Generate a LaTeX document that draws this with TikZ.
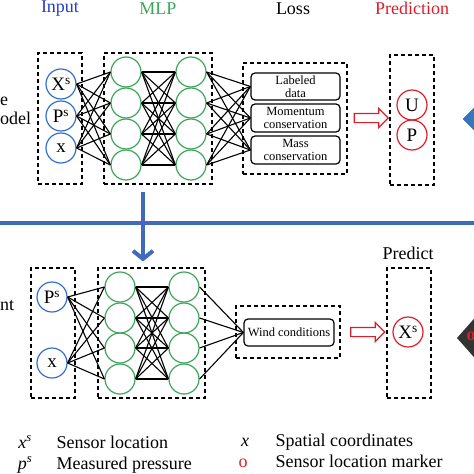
\documentclass[tikz,border=0pt]{standalone}
\usepackage{fontspec}
\setmainfont{Liberation Serif}
\usetikzlibrary{shapes.arrows}
\usetikzlibrary{arrows.meta}

\definecolor{inblue}{RGB}{40,60,190}
\definecolor{nodeblue}{RGB}{50,110,210}
\definecolor{mlpgreen}{RGB}{60,165,90}
\definecolor{predred}{RGB}{220,30,40}
\definecolor{barblue}{RGB}{65,105,190}
\newcommand{\hdfont}{\fontsize{18}{20}\selectfont}
\newcommand{\nfont}{\fontsize{19}{20}\selectfont}
\newcommand{\boxfont}{\fontsize{12.5}{13.5}\selectfont}

\begin{document}
\begin{tikzpicture}[x=1pt,y=-1pt]
	 \tikzstyle{neuron}=[circle,draw,line width=1.2pt,minimum size=30pt,inner sep=0pt,font=\nfont]
	 \tikzstyle{input neuron}=[neuron,draw=nodeblue]
	 \tikzstyle{hidden neuron}=[neuron,draw=mlpgreen]
	 \tikzstyle{output neuron}=[neuron,draw=predred]
	 \tikzstyle{dashed box}=[draw,dash pattern=on 4pt off 3pt,line width=1.2pt,inner sep=0pt]
	 \tikzstyle{loss box}=[draw,rounded corners=4pt,line width=1.2pt,align=center,font=\boxfont,inner sep=0pt]
	 \tikzstyle{edge}=[-,black,line width=1.1pt]
	 \tikzstyle{hollow arrow}=[single arrow,draw=predred,fill=white,line width=1.2pt,minimum height=34pt,minimum width=18pt,inner xsep=0pt,inner ysep=4pt,single arrow head extend=5pt]
	 \tikzstyle{section bar}=[barblue,line width=4pt]

	\useasboundingbox (0,0) rectangle (474,474);
	\clip (0,0) rectangle (474,474);

	% headings
	\node[text=inblue,font=\hdfont] (tin) at (60,9) {Input};
	\node[text=mlpgreen,font=\hdfont] (tmlp) at (158,9) {MLP};
	\node[font=\hdfont] (tloss) at (293,9) {Loss};
	\node[text=predred,font=\hdfont] (tpred) at (412,8) {Prediction};
	\node[font=\hdfont,anchor=base west,inner sep=0pt] (tleft1) at (0,105) {e};
	\node[font=\hdfont,anchor=base west,inner sep=0pt] (tleft2) at (0,124) {odel};

	% upper network
	\node[dashed box,minimum width=44pt,minimum height=131pt] (inbox) at (60,118.5) {};
	\node[dashed box,minimum width=108pt,minimum height=131pt] (mlpbox) at (158,118.5) {};
	\node[dashed box,minimum width=104pt,minimum height=111pt] (lossbox) at (295,118.5) {};
	\node[dashed box,minimum width=44pt,minimum height=130pt] (predbox) at (412,120) {};

	\node[input neuron] (in1) at (61,84) {X\textsuperscript{s}};
	\node[input neuron] (in2) at (61,116) {P\textsuperscript{s}};
	\node[input neuron] (in3) at (61,148) {x};
	\foreach \k/\y in {1/72,2/103,3/134,4/165} {
		\node[hidden neuron] (ha\k) at (126,\y) {};
		\node[hidden neuron] (hb\k) at (191,\y) {};
	}
	\node[loss box,minimum width=89pt,minimum height=27pt] (ls1) at (295.5,86.5) {Labeled\\data};
	\node[loss box,minimum width=89pt,minimum height=28pt] (ls2) at (295.5,118) {Momentum\\conservation};
	\node[loss box,minimum width=89pt,minimum height=28pt] (ls3) at (295.5,150) {Mass\\conservation};
	\node[output neuron] (outu) at (412,105) {U};
	\node[output neuron] (outp) at (412,135) {P};
	\node[hollow arrow] (arr1) at (369,118) {};

	\foreach \i in {1,2,3} \foreach \j in {1,2,3,4} \draw[edge] (in\i.east) -- (ha\j.west);
	\foreach \i in {1,2,3,4} \foreach \j in {1,2,3,4} \draw[edge] (ha\i.east) -- (hb\j.west);
	\foreach \i in {1,2,3,4} \foreach \j in {1,2,3} \draw[edge] (hb\i.east) -- (ls\j.west);

	% divider and arrow
	\coordinate (barl) at (0,223);
	\coordinate (barr) at (474,223);
	\coordinate (arrtop) at (143,192);
	\draw[section bar] (barl) -- (barr);

	% lower network
	\node[font=\hdfont,anchor=base west,inner sep=0pt] (tleft3) at (0,310) {nt};
	\node[font=\hdfont] (tpredict) at (408,253) {Predict};
	\node[dashed box,minimum width=44pt,minimum height=130pt] (binbox) at (53,333) {};
	\node[dashed box,minimum width=107pt,minimum height=130pt] (bmlpbox) at (151.5,333) {};
	\node[dashed box,minimum width=104pt,minimum height=52pt] (windbox) at (288,332) {};
	\node[dashed box,minimum width=44pt,minimum height=130pt] (bpredbox) at (409,333) {};

	\node[input neuron] (bin1) at (52,297) {P\textsuperscript{s}};
	\node[input neuron] (bin2) at (52,363) {x};
	\foreach \k/\y in {1/287,2/318,3/348,4/379} {
		\node[hidden neuron] (bha\k) at (120,\y) {};
		\node[hidden neuron] (bhb\k) at (184,\y) {};
	}
	\node[loss box,minimum width=90pt,minimum height=27pt] (wind) at (289,332.5) {Wind conditions};
	\node[output neuron] (bout) at (408,332) {X\textsuperscript{s}};
	\node[hollow arrow] (arr2) at (365.5,332) {};

	\foreach \i in {1,2} \foreach \j in {1,2,3,4} \draw[edge] (bin\i.east) -- (bha\j.west);
	\foreach \i in {1,2,3,4} \foreach \j in {1,2,3,4} \draw[edge] (bha\i.east) -- (bhb\j.west);
	\foreach \i in {1,2,3,4} \draw[edge] (bhb\i.east) -- (wind.west);

	\draw[section bar,-{Straight Barb[length=8pt,width=20pt]},shorten >=6pt] (arrtop) -- (arrtop |- bmlpbox.north);

	% cut-off pictures at the right edge
	\fill[left color=nodeblue,right color=mlpgreen] (463,119) -- (483,99) -- (503,119) -- (483,139) -- cycle;
	\fill[black!80] (457,338) -- (480,312) -- (503,338) -- (480,364) -- cycle;
	\node[text=predred,font=\hdfont\bfseries] (omark) at (471,336) {o};

	% legend
	\node[font=\hdfont,anchor=base] (sy1) at (25,448) {\textit{x}\textsuperscript{\textit{s}}};
	\node[font=\hdfont,anchor=base west] (lg1) at (53,448) {Sensor location};
	\node[font=\hdfont,anchor=base] (sy2) at (25,469) {\textit{p}\textsuperscript{\textit{s}}};
	\node[font=\hdfont,anchor=base west] (lg2) at (53,469) {Measured pressure};
	\node[font=\hdfont,anchor=base] (sy3) at (245,446) {\textit{x}};
	\node[font=\hdfont,anchor=base west] (lg3) at (272,446) {Spatial coordinates};
	\node[text=predred,font=\hdfont,anchor=base] (sy4) at (243,467) {o};
	\node[font=\hdfont,anchor=base west] (lg4) at (272,467) {Sensor location marker};
\end{tikzpicture}
\end{document}
